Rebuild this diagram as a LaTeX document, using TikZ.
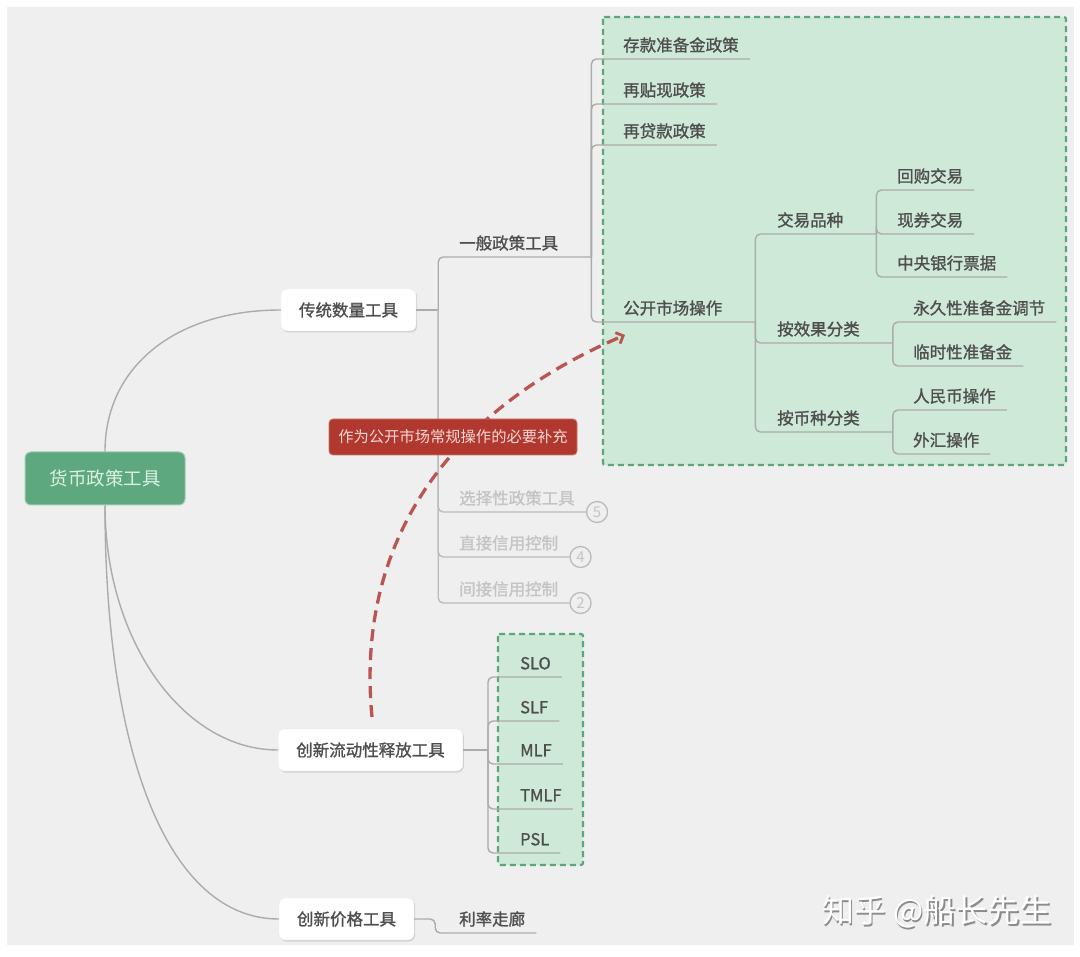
\documentclass[tikz,border=0pt]{standalone}
\usepackage{fontspec}
\setmainfont{Noto Sans CJK SC}
\newfontfamily\boldish{Noto Sans CJK SC}[FakeBold=1.2]
\usetikzlibrary{arrows.meta,shadows,calc}
\definecolor{bggray}{HTML}{EFEFEF}
\definecolor{txt}{HTML}{4E4E4E}
\definecolor{fade}{HTML}{C4C4C4}
\definecolor{conn}{HTML}{ABABAB}
\definecolor{fconn}{HTML}{BBBBBB}
\definecolor{rootfill}{HTML}{5EA87F}
\definecolor{roottxt}{HTML}{DDF2E2}
\definecolor{gfill}{HTML}{CFE9D9}
\definecolor{gborder}{HTML}{5CA67B}
\definecolor{redbox}{HTML}{B1382F}
\definecolor{redtxt}{HTML}{F4D8D4}
\definecolor{redarr}{HTML}{BA5652}
\newcommand\fsz{\boldish\fontsize{16.5}{19}\selectfont}
\begin{document}
\begin{tikzpicture}[x=1pt,y=-1pt,
  lab/.style={anchor=south west, inner xsep=11pt, inner ysep=5.5pt, text height=14pt, text depth=2pt, font=\fsz, text=txt},
  flab/.style={lab, text=fade},
  numc/.style={circle, draw=fconn, line width=1.3pt, minimum size=21pt, inner sep=0pt, text=fade, font=\fontsize{15}{15}\selectfont, anchor=west},
  lvone/.style={draw=black!8, fill=white, rounded corners=6pt, inner xsep=18pt, minimum height=42pt, font=\fsz, text=txt,
     drop shadow={shadow xshift=1pt, shadow yshift=-1.5pt, opacity=0.12, fill=black}},
  cline/.style={draw=conn, line width=1.4pt, rounded corners=5pt},
  fline/.style={draw=fconn, line width=1.4pt, rounded corners=5pt},
  gbox/.style={fill=gfill, draw=gborder, line width=2.2pt, dash pattern=on 6pt off 4pt, rounded corners=2pt},
  redarrow/.style={draw=redarr, line width=3.3pt, dash pattern=on 12pt off 7pt, -{Straight Barb[length=6pt,width=12pt,line width=2.8pt]}}
]
\useasboundingbox (0,0) rectangle (1080,957);
\fill[white] (0,0) rectangle (1080,957);
\fill[bggray] (7,7) rectangle (1074,945);

% green dashed regions
\draw[gbox] (603,17) rectangle (1066,465);
\draw[gbox] (498,634) rectangle (583,865);

% root and level one
\node[fill=rootfill, draw=rootfill!60!white, line width=1pt, rounded corners=6pt, minimum width=160pt, minimum height=53pt,
      font=\fontsize{18.5}{20}\selectfont, text=roottxt] (root) at (105,478.5) {货币政策工具};
\node[lvone] (ctsl) at (348.5,310) {传统数量工具};
\node[lvone] (cxld) at (370.5,750) {创新流动性释放工具};
\node[lvone] (cxjg) at (346.5,919) {创新价格工具};

\coordinate (jct) at ($(ctsl.east)+(22,0)$);
\coordinate (jcx) at ($(cxld.east)+(25,0)$);
\coordinate (jjg) at ($(cxjg.east)+(21,0)$);

% level two under 传统数量工具
\node[lab]  (ybzc) at (448,257) {一般政策工具};
\node[flab] (xzx)  at (448,512) {选择性政策工具};
\node[flab] (zjxy) at (448,557) {直接信用控制};
\node[flab] (jjxy) at (448,603) {间接信用控制};
\node[numc] (c5) at (xzx.south east) {5};
\node[numc] (c4) at (zjxy.south east) {4};
\node[numc] (c2) at (jjxy.south east) {2};
\coordinate (jyb) at ([xshift=22pt]ybzc.south east);

% children of 一般政策工具
\node[lab] (ckzbj) at (612,59) {存款准备金政策};
\node[lab] (ztx)   at (612,104) {再贴现政策};
\node[lab] (zdk)   at (612,145) {再贷款政策};
\node[lab] (gkss)  at (612,322) {公开市场操作};
\coordinate (jgk) at ([xshift=22pt]gkss.south east);

% children of 公开市场操作
\node[lab] (jypz)  at (766,234) {交易品种};
\node[lab] (axgfl) at (766,343) {按效果分类};
\node[lab] (abzfl) at (766,432) {按币种分类};
\coordinate (jjy) at ([xshift=22pt]jypz.south east);
\coordinate (jxg) at ([xshift=22pt]axgfl.south east);
\coordinate (jbz) at ([xshift=22pt]abzfl.south east);

\node[lab] (hgjy) at (886,190) {回购交易};
\node[lab] (xqjy) at (886,234) {现券交易};
\node[lab] (zyyh) at (886,277) {中央银行票据};
\node[lab] (yjx)  at (902,322) {永久性准备金调节};
\node[lab] (lsx)  at (902,366) {临时性准备金};
\node[lab] (rmb)  at (902,410) {人民币操作};
\node[lab] (wh)   at (902,454) {外汇操作};

% children of 创新流动性释放工具
\node[lab] (slo)  at (509,677) {SLO};
\node[lab] (slf)  at (509,721) {SLF};
\node[lab] (mlf)  at (509,764) {MLF};
\node[lab] (tmlf) at (509,809) {TMLF};
\node[lab] (psl)  at (509,853) {PSL};

% child of 创新价格工具
\node[lab] (lllz) at (448,933) {利率走廊};

% root curves
\draw[cline] (root.north) .. controls +(0,-85) and +(-105,0) .. (ctsl.west);
\draw[cline] (root.south) .. controls +(0,135) and +(-95,0) .. (cxld.west);
\draw[cline] (root.south) .. controls +(0,250) and +(-110,0) .. (cxjg.west);

% tree connectors
\draw[cline] (ctsl.east) -- (jct);
\draw[cline] (jct) |- (ybzc.south west) -- (jyb);
\draw[fline] (jct) |- (xzx.south west) -- (c5.west);
\draw[fline] (jct) |- (zjxy.south west) -- (c4.west);
\draw[fline] (jct) |- (jjxy.south west) -- (c2.west);

\draw[cline] (jyb) |- (ckzbj.south west) -- (ckzbj.south east);
\draw[cline] (jyb) |- (ztx.south west) -- (ztx.south east);
\draw[cline] (jyb) |- (zdk.south west) -- (zdk.south east);
\draw[cline] (jyb) |- (gkss.south west) -- (jgk);

\draw[cline] (jgk) |- (jypz.south west) -- (jjy);
\draw[cline] (jgk) |- (axgfl.south west) -- (jxg);
\draw[cline] (jgk) |- (abzfl.south west) -- (jbz);

\draw[cline] (jjy) |- (hgjy.south west) -- (hgjy.south east);
\draw[cline] (jjy) |- (xqjy.south west) -- (xqjy.south east);
\draw[cline] (jjy) |- (zyyh.south west) -- (zyyh.south east);
\draw[cline] (jxg) |- (yjx.south west) -- (yjx.south east);
\draw[cline] (jxg) |- (lsx.south west) -- (lsx.south east);
\draw[cline] (jbz) |- (rmb.south west) -- (rmb.south east);
\draw[cline] (jbz) |- (wh.south west) -- (wh.south east);

\draw[cline] (cxld.east) -- (jcx);
\draw[cline] (jcx) |- (slo.south west) -- (slo.south east);
\draw[cline] (jcx) |- (slf.south west) -- (slf.south east);
\draw[cline] (jcx) |- (mlf.south west) -- (mlf.south east);
\draw[cline] (jcx) |- (tmlf.south west) -- (tmlf.south east);
\draw[cline] (jcx) |- (psl.south west) -- (psl.south east);

\draw[cline] (cxjg.east) -- (jjg) |- (lllz.south west) -- (lllz.south east);

% red dashed arrow and note
\coordinate (as) at (372,717);
\coordinate (ae) at (625,335);
\draw[redarrow] (as) .. controls (355,540) and (450,410) .. (ae);
\node[fill=redbox, draw=redbox!70!white, line width=0.8pt, rounded corners=4pt, minimum width=248pt, minimum height=36pt,
      font=\fontsize{15.3}{17}\selectfont, text=redtxt, inner sep=0pt] (note) at (453,437) {作为公开市场常规操作的必要补充};

% watermark
\node[font=\fontsize{32}{34}\selectfont, text=black!45] (wms) at (938.5,913.5) {知乎 @船长先生};
\node[font=\fontsize{32}{34}\selectfont, text=white] (wm) at (937,912) {知乎 @船长先生};
\end{tikzpicture}
\end{document}
